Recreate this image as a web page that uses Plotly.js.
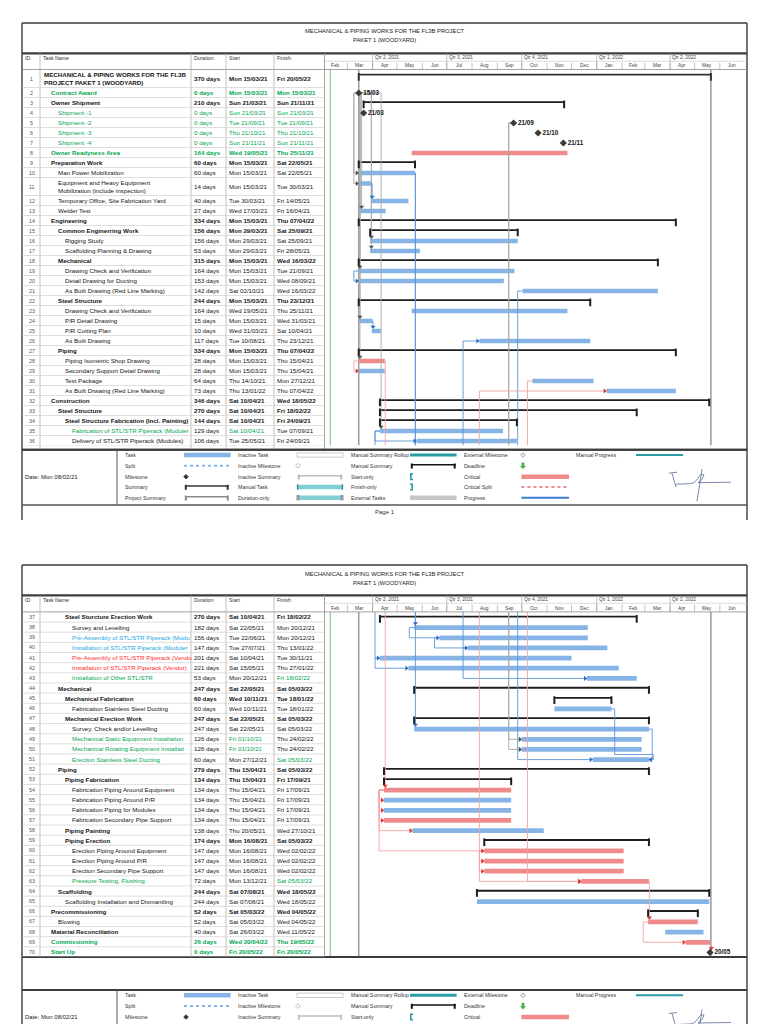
<!DOCTYPE html>
<html>
<head>
<meta charset="utf-8">
<script src="https://cdn.plot.ly/plotly-3.0.1.min.js"></script>
<style>
html,body{margin:0;padding:0;background:#fff;overflow:hidden}
#chart{width:768px;height:1024px}
</style>
</head>
<body>
<div id="chart"></div>
<script>
// ================= DATA =================
const projectTitle = ['MECHANICAL &amp; PIPING WORKS FOR THE FL3B PROJECT', 'PAKET 1 (WOODYARD)'];
const statusDate = 'Mon 08/02/21';
const timescaleStart = 'Mon 01/02/21';
const timescaleEnd = 'Fri 01/07/22';
const monthLabels = ['Feb','Mar','Apr','May','Jun','Jul','Aug','Sep','Oct','Nov','Dec','Jan','Feb','Mar','Apr','May','Jun'];
const quarterLabels = ['Qtr 2, 2021','Qtr 3, 2021','Qtr 4, 2021','Qtr 1, 2022','Qtr 2, 2022'];
const quarterStarts = ['Thu 01/04/21','Thu 01/07/21','Fri 01/10/21','Sat 01/01/22','Fri 01/04/22'];
const columnHeaders = ['ID','Task Name','Duration','Start','Finish'];
const firstIdOnPage2 = 37;

const taskIds = [1,2,3,4,5,6,7,8,9,10,11,12,13,14,15,16,17,18,19,20,21,22,23,24,25,26,27,28,29,30,31,32,33,34,35,36,
  37,38,39,40,41,42,43,44,45,46,47,48,49,50,51,52,53,54,55,56,57,58,59,60,61,62,63,64,65,66,67,68,69,70];

const taskNames = [
  'MECHANICAL &amp; PIPING WORKS FOR THE FL3B<br>PROJECT PAKET 1 (WOODYARD)',
  'Contract Award','Owner Shipment','Shipment -1','Shipment -2','Shipment -3','Shipment -4',
  'Owner Readyness Area','Preparation Work','Man Power Mobilization',
  'Equipment and Heavy Equipment<br>Mobilization (include inspection)',
  'Temporary Office, Site Fabrication Yard','Welder Test','Engineering','Common Enginerring Work',
  'Rigging Study','Scaffolding Planning &amp; Drawing','Mechanical','Drawing Check and Verification',
  'Detail Drawing for Ducting','As Built Drawing (Red Line Marking)','Steel Structure',
  'Drawing Check and Verification','P/R Detail Drawing','P/R Cutting Plan','As Built Drawing','Piping',
  'Piping Isometric Shop Drawing','Secondary Support Detail Drawing','Test Package',
  'As Built Drwaing (Red Line Marking)','Construction','Steel Structure',
  'Steel Structure Fabrication (Incl. Painting)','Fabrication of STL/STR Piperack (Moduler',
  'Delivery of STL/STR Piperack (Modules)',
  'Steel Sturcture Erection Work','Survey and Levelling','Pre-Assembly of STL/STR Piperack (Modu',
  'Installation of STL/STR Piperack (Moduler','Pre-Assembly of STL/STR Piperack (Vendo',
  'Installation of STL/STR Piperack (Vendor)','Installation of Other STL/STR','Mechanical',
  'Mechanical Fabrication','Fabrication Stainless Steel Ducting','Mechanical Erection Work',
  'Survey, Check and/or Levelling','Mechanical Static Equipment Installation',
  'Mechanical Rotating Equipment Installati','Erection Stainless Steel Ducting','Piping',
  'Piping Fabrication','Fabrication Piping Around Equipment','Fabrication Piping Around P/R',
  'Fabrication Piping for Modules','Fabrication Secondary Pipe Support','Piping Painting',
  'Piping Erection','Erection Piping Around Equipment','Erection Piping Around P/R',
  'Erection Secondary Pipe Support','Pressure Testing, Flushing','Scaffolding',
  'Scaffolding Installation and Dismantling','Precommissioning','Blowing','Material Reconciliation',
  'Commissioning','Start Up'
];

const taskLevels = [0,1,1,2,2,2,2,1,1,2,2,2,2,1,2,3,3,2,3,3,3,2,3,3,3,3,2,3,3,3,3,1,2,3,4,4,
  3,4,4,4,4,4,4,2,3,4,3,4,4,4,4,2,3,4,4,4,4,3,3,4,4,4,4,2,3,1,2,1,1,1];

const taskLines = [2,1,1,1,1,1,1,1,1,1,2,1,1,1,1,1,1,1,1,1,1,1,1,1,1,1,1,1,1,1,1,1,1,1,1,1,
  1,1,1,1,1,1,1,1,1,1,1,1,1,1,1,1,1,1,1,1,1,1,1,1,1,1,1,1,1,1,1,1,1,1];

const taskDurations = [370,0,210,0,0,0,0,164,60,60,14,40,27,334,156,156,53,315,164,153,142,244,164,15,10,117,
  334,28,28,64,73,346,270,144,129,106,
  270,182,156,147,201,221,53,247,60,60,247,247,126,126,60,279,134,134,134,134,134,138,174,147,147,147,72,
  244,244,52,52,40,26,0];

const taskStarts = ['Mon 15/03/21','Mon 15/03/21','Sun 21/03/21','Sun 21/03/21','Tue 21/09/21','Thu 21/10/21',
  'Sun 21/11/21','Wed 19/05/21','Mon 15/03/21','Mon 15/03/21','Mon 15/03/21','Tue 30/03/21','Wed 17/03/21',
  'Mon 15/03/21','Mon 29/03/21','Mon 29/03/21','Mon 29/03/21','Mon 15/03/21','Mon 15/03/21','Mon 15/03/21',
  'Sat 02/10/21','Mon 15/03/21','Wed 19/05/21','Mon 15/03/21','Wed 31/03/21','Tue 10/08/21','Mon 15/03/21',
  'Mon 15/03/21','Mon 15/03/21','Thu 14/10/21','Thu 13/01/22','Sat 10/04/21','Sat 10/04/21','Sat 10/04/21',
  'Sat 10/04/21','Tue 25/05/21',
  'Sat 10/04/21','Sat 22/05/21','Tue 22/06/21','Tue 27/07/21','Sat 10/04/21','Sat 15/05/21','Mon 20/12/21',
  'Sat 22/05/21','Wed 10/11/21','Wed 10/11/21','Sat 22/05/21','Sat 22/05/21','Fri 01/10/21','Fri 01/10/21',
  'Mon 27/12/21','Thu 15/04/21','Thu 15/04/21','Thu 15/04/21','Thu 15/04/21','Thu 15/04/21','Thu 15/04/21',
  'Thu 20/05/21','Mon 16/08/21','Mon 16/08/21','Mon 16/08/21','Mon 16/08/21','Mon 13/12/21','Sat 07/08/21',
  'Sat 07/08/21','Sat 05/03/22','Sat 05/03/22','Sat 26/03/22','Wed 20/04/22','Fri 20/05/22'];

const taskFinishes = ['Fri 20/05/22','Mon 15/03/21','Sun 21/11/21','Sun 21/03/21','Tue 21/09/21','Thu 21/10/21',
  'Sun 21/11/21','Thu 25/11/21','Sat 22/05/21','Sat 22/05/21','Tue 30/03/21','Fri 14/05/21','Fri 16/04/21',
  'Thu 07/04/22','Sat 25/09/21','Sat 25/09/21','Fri 28/05/21','Wed 16/03/22','Tue 21/09/21','Wed 08/09/21',
  'Wed 16/03/22','Thu 23/12/21','Thu 25/11/21','Wed 31/03/21','Sat 10/04/21','Thu 23/12/21','Thu 07/04/22',
  'Thu 15/04/21','Thu 15/04/21','Mon 27/12/21','Thu 07/04/22','Wed 18/05/22','Fri 18/02/22','Fri 24/09/21',
  'Tue 07/09/21','Fri 24/09/21',
  'Fri 18/02/22','Mon 20/12/21','Mon 20/12/21','Thu 13/01/22','Tue 30/11/21','Thu 27/01/22','Fri 18/02/22',
  'Sat 05/03/22','Tue 18/01/22','Tue 18/01/22','Sat 05/03/22','Sat 05/03/22','Thu 24/02/22','Thu 24/02/22',
  'Sat 05/03/22','Sat 05/03/22','Fri 17/09/21','Fri 17/09/21','Fri 17/09/21','Fri 17/09/21','Fri 17/09/21',
  'Wed 27/10/21','Sat 05/03/22','Wed 02/02/22','Wed 02/02/22','Wed 02/02/22','Sat 05/03/22','Wed 18/05/22',
  'Wed 18/05/22','Wed 04/05/22','Wed 04/05/22','Wed 11/05/22','Thu 19/05/22','Fri 20/05/22'];

// P project summary, S summary, T task, C critical task, M milestone
const taskKinds = ['P','M','S','M','M','M','M','C','S','T','T','T','T','S','S','T','T','S','T','T','T','S','T','T','T','T',
  'S','C','T','T','T','S','S','S','T','T',
  'S','T','T','T','T','T','T','S','S','T','S','T','T','T','T','S','S','C','T','T','C','T','S','C','C','C','C',
  'S','T','S','C','T','C','M'];

// text colour per column (name, duration, start, finish): k black, g green, b blue, r red
const taskTextColor = ['kkkk','gggg','kkkk','gggg','gggg','gggg','gggg','gggg','kkkk','kkkk','kkkk','kkkk','kkkk',
  'kkkk','kkkk','kkkk','kkkk','kkkk','kkkk','kkkk','kkkk','kkkk','kkkk','kkkk','kkkk','kkkk','kkkk','kkkk','kkkk',
  'kkkk','kkkk','kkkk','kkkk','kkkk','gkgk','kkkk',
  'kkkk','kkkk','bkkk','bkkk','rkkk','rkkk','gkkg','kkkk','kkkk','kkkk','kkkk','kkkk','gkgk','gkgk','gkkg',
  'kkkk','kkkk','kkkk','kkkk','kkkk','kkkk','kkkk','kkkk','kkkk','kkkk','kkkk','gkkg','kkkk','kkkk','kkkk',
  'kkkk','kkkk','gggg','gggg'];

// bold per column (name, duration, start, finish)
const taskBold = ['1111','1111','1111','0000','0000','0000','0000','1111','1111','0000','0000','0000','0000',
  '1111','1111','0000','0000','1111','0000','0000','0000','1111','0000','0000','0000','0000','1111','0000','0000',
  '0000','0000','1111','1111','1111','0000','0000',
  '1111','0000','0000','0000','0000','0000','0000','1111','1111','0000','1111','0000','0000','0000','0000',
  '1111','1111','0000','0000','0000','0000','1000','1111','0000','0000','0000','0000','1111','0000','1111',
  '0000','1000','1111','1111'];

// predecessor, successor, link type
const taskLinks = [
  [2,10,'SS'],[2,11,'SS'],[11,12,'FS'],[2,13,'FS'],[2,16,'FS'],[2,17,'FS'],[2,19,'FS'],[19,20,'SS'],
  [2,24,'FS'],[24,25,'FS'],[2,28,'FS'],[28,29,'SS'],[2,35,'FS'],[35,36,'SS'],[40,26,'SS'],[60,31,'SS'],
  [30,63,'SS'],[21,51,'SS'],[5,49,'SS'],[5,50,'SS'],[10,38,'FS'],[10,48,'FS'],[38,39,'SS'],[39,40,'SS'],
  [35,41,'SS'],[41,42,'SS'],[40,43,'SS'],[46,51,'FF'],[48,51,'FF'],[28,54,'FS'],[54,55,'SS'],[54,56,'SS'],
  [54,57,'SS'],[54,58,'SS'],[54,60,'SS'],[60,61,'SS'],[60,62,'SS'],[60,63,'SS'],[63,67,'FS'],[67,69,'SS'],
  [69,70,'FS']
];

const legendLabels = [
  ['Task','Split','Milestone','Summary','Project Summary'],
  ['Inactive Task','Inactive Milestone','Inactive Summary','Manual Task','Duration-only'],
  ['Manual Summary Rollup','Manual Summary','Start-only','Finish-only','External Tasks'],
  ['External Milestone','Deadline','Critical','Critical Split','Progress'],
  ['Manual Progress']
];

// ================= STYLE / LAYOUT CONSTANTS =================
const W = 768, H = 1024, DAY = 864e5;
const X = px => px / W;
const Y = py => 1 - py / H;
const FONT = '"Liberation Sans", Arial, Helvetica, sans-serif';
const COL = {blue:'#86b4e6', red:'#f08b8b', sum:'#1e1e1e', proj:'#333333', ms:'#3a3a3a',
  tblack:'#141414', tgreen:'#00a650', tblue:'#18a6e6', tred:'#ff2a2a',
  linkBlue:'#5b95d6', linkRed:'#f3a5a5', linkGrey:'#a8a8a8', arrowBlue:'#2f6fc0', arrowRed:'#e0393a', arrowGrey:'#555'};
const TXT = {k:COL.tblack, g:COL.tgreen, b:COL.tblue, r:COL.tred};
const FL = 22, FR = 747;               // frame left/right
const GANTT_L = 324.5, GANTT_R = 744.3; // gantt area
const COLX = [40, 191, 226, 274];        // table column separators
const PAGES = [
  {n:1, xa:'x', ya:'y', frameTop:23, title:[31,40], hdrTop:53.3, bodyTop:69.5, unit:10.0, tblBottom:449.7, legTop:449.7, frameBottom:520, pageLabel:'Page 1'},
  {n:2, xa:'x2', ya:'y2', frameTop:565, title:[573.5,582.5], hdrTop:595.3, bodyTop:611.9, unit:10.15, tblBottom:957, legTop:990, frameBottom:1060, pageLabel:null}
];

// ================= HELPERS =================
function toMs(s){const m=/(\d+)\/(\d+)\/(\d+)/.exec(s);return Date.UTC(2000+Number(m[3]),Number(m[2])-1,Number(m[1]));}
function iso(ms){return new Date(ms).toISOString().slice(0,19).replace('T',' ');}
function ddmm(s){const m=/(\d+)\/(\d+)\//.exec(s);return m[1]+'/'+m[2];}
const shapes = [], ann = [];
function line(x0,y0,x1,y1,color,width,dash,layer){shapes.push({type:'line',xref:'paper',yref:'paper',x0:X(x0),y0:Y(y0),x1:X(x1),y1:Y(y1),line:{color:color,width:width,dash:dash||'solid'},layer:layer||'above'});}
function rect(x0,y0,x1,y1,fill,lc,lw){shapes.push({type:'rect',xref:'paper',yref:'paper',x0:X(x0),y0:Y(y0),x1:X(x1),y1:Y(y1),fillcolor:fill,line:{color:lc||'rgba(0,0,0,0)',width:lw||0}});}
function pathPx(str){const t=str.trim().split(/[\s,]+/);const out=[];let isX=true;for(const k of t){if(/^[A-Za-z]$/.test(k)){out.push(k);isX=true;}else{out.push(isX?X(+k).toFixed(5):Y(+k).toFixed(5));isX=!isX;}}return out.join(' ');}
function path(str,lc,lw,fill){shapes.push({type:'path',xref:'paper',yref:'paper',path:pathPx(str),line:{color:lc||'rgba(0,0,0,0)',width:lw||0},fillcolor:fill||'rgba(0,0,0,0)'});}
function text(x,y,t,o){o=o||{};ann.push({xref:'paper',yref:'paper',x:X(x),y:Y(y),text:t,showarrow:false,xanchor:o.anchor||'left',yanchor:'middle',align:'left',borderpad:0,font:{family:FONT,size:o.size||6,color:o.color||'#222'}});}
function boldify(t){return t.split('<br>').map(s=>'<b>'+s+'</b>').join('<br>');}

// ================= ROW GEOMETRY =================
const pageTot = {1:0, 2:0};
const rows = taskIds.map((id,i)=>{
  const pg = id < firstIdOnPage2 ? 1 : 2;
  const h = taskLines[i] === 2 ? 1.8 : 1;
  const top = pageTot[pg]; pageTot[pg] += h;
  const s = toMs(taskStarts[i]), f = toMs(taskFinishes[i]);
  const kind = taskKinds[i];
  return {i, id, pg, top, h, center: top + h/2, barY: taskLines[i] === 2 ? top + 0.6 : top + 0.55,
          start: s, end: kind === 'M' ? s : f + DAY, kind};
});
const byId = {}; rows.forEach(r => byId[r.id] = r);
const tsStart = toMs(timescaleStart), tsEnd = toMs(timescaleEnd);

// ================= TRACES =================
const traces = [];
const linkStore = {1:{}, 2:{}}, arrowStore = {1:{}, 2:{}};
const G1 = pageTot[1];
const gy = r => r.pg === 1 ? r.barY : G1 + r.barY;
const local = g => g <= G1 ? [1, g] : [2, g - G1];
function pushSeg(color, pg, x0, y0, x1, y1){
  const st = linkStore[pg]; if(!st[color]) st[color] = {x:[], y:[]};
  st[color].x.push(iso(x0), iso(x1), null); st[color].y.push(y0, y1, null);
}
function addSeg(color, a, b){
  const [pa, ya] = local(a[1]), [pb, yb] = local(b[1]);
  if (pa === pb) { pushSeg(color, pa, a[0], ya, b[0], yb); return; }
  if (pa === 1) { pushSeg(color, 1, a[0], ya, a[0], G1); pushSeg(color, 2, b[0], 0, b[0], yb); }
  else { pushSeg(color, 2, a[0], ya, a[0], 0); pushSeg(color, 1, b[0], G1, b[0], yb); }
}
taskLinks.forEach(([pa, sa, type]) => {
  const p = byId[pa], s = byId[sa];
  const kind = p.kind === 'M' ? 'Grey' : (p.kind === 'C' || s.kind === 'C') ? 'Red' : 'Blue';
  const yp = gy(p), ys = gy(s);
  let pts, arrow;
  if (type === 'SS') {
    const xv = p.start - 6*DAY, xa = s.start - 2.3*DAY;
    pts = [[p.start, yp], [xv, yp], [xv, ys], [xa, ys]]; arrow = [xa, ys, 'triangle-right'];
  } else if (type === 'FF') {
    const xv = Math.max(p.end, s.end) + 5*DAY, xa = s.end + 2.3*DAY, xo = p.end + 4*DAY;
    pts = [[p.end, yp], [xo, yp], [xo, ys - 0.5], [xv, ys - 0.5], [xv, ys], [xa, ys]]; arrow = [xa, ys, 'triangle-left'];
  } else {
    const xv = Math.max(p.end, s.start + 1.5*DAY), dir = ys > yp ? 1 : -1, ya = ys - dir*0.42;
    pts = [[p.end, yp], [xv, yp], [xv, ya]]; arrow = [xv, ya, dir > 0 ? 'triangle-down' : 'triangle-up'];
  }
  for (let k = 0; k < pts.length - 1; k++) addSeg(kind, pts[k], pts[k+1]);
  const [ap, ay] = local(arrow[1]);
  const st = arrowStore[ap]; if(!st[kind]) st[kind] = {x:[], y:[], sym:[]};
  st[kind].x.push(iso(arrow[0])); st[kind].y.push(ay); st[kind].sym.push(arrow[2]);
});

PAGES.forEach(pg => {
  const prow = rows.filter(r => r.pg === pg.n);
  const ax = {xaxis: pg.xa, yaxis: pg.ya, hoverinfo: 'skip', showlegend: false};
  Object.keys(linkStore[pg.n]).forEach(k => {
    traces.push(Object.assign({type:'scatter', mode:'lines', x: linkStore[pg.n][k].x, y: linkStore[pg.n][k].y,
      line:{color: COL['link'+k], width: 0.9}, connectgaps:false}, ax));
  });
  const bars = (kinds, color, w, dy) => {
    const sel = prow.filter(r => kinds.includes(r.kind)); if (!sel.length) return;
    traces.push(Object.assign({type:'bar', orientation:'h', base: sel.map(r => iso(r.start)),
      x: sel.map(r => r.end - r.start), y: sel.map(r => r.barY + dy), width: w,
      marker:{color: color, line:{width:0}}}, ax));
  };
  bars(['T'], COL.blue, 0.47, 0);
  bars(['C'], COL.red, 0.47, 0);
  bars(['S'], COL.sum, 0.18, -0.08);
  bars(['P'], COL.proj, 0.18, -0.08);
  const sums = prow.filter(r => r.kind === 'S' || r.kind === 'P');
  if (sums.length) {
    const cols = sums.flatMap(r => { const c = r.kind === 'P' ? COL.proj : COL.sum; return [c, c]; });
    traces.push(Object.assign({type:'scatter', mode:'markers', x: sums.flatMap(r => [iso(r.start), iso(r.end)]),
      y: sums.flatMap(r => [r.barY + 0.14, r.barY + 0.14]),
      marker:{symbol:'line-ns', size:5.5, color: cols, line:{width:2, color: cols}}, cliponaxis:false}, ax));
  }
  Object.keys(arrowStore[pg.n]).forEach(k => {
    const a = arrowStore[pg.n][k];
    traces.push(Object.assign({type:'scatter', mode:'markers', x: a.x, y: a.y,
      marker:{symbol: a.sym, size: 4.5, color: COL['arrow'+k], line:{width:0}}, cliponaxis:false}, ax));
  });
  const ms = prow.filter(r => r.kind === 'M');
  if (ms.length) {
    traces.push(Object.assign({type:'scatter', mode:'markers+text', x: ms.map(r => iso(r.start)), y: ms.map(r => r.barY),
      text: ms.map(r => '<b>' + ddmm(taskStarts[r.i]) + '</b>'), textposition:'middle right',
      textfont:{family: FONT, size: 6.3, color:'#111'},
      marker:{symbol:'diamond', size: 5.5, color: COL.ms, line:{width:0}}, cliponaxis:false}, ax));
  }
});

// ================= PAGE FURNITURE =================
function legend(top){
  const bot = top + 55.3;
  const vis = y => y < H - 4;
  line(FL, top, FR, top, '#3c3c3c', 2);
  if (vis(bot)) line(FL, bot, FR, bot, '#555', 1.4);
  line(117, top, 117, Math.min(bot, H), '#555', 1);
  const ry = [5.3, 16, 27, 37.3, 48].map(d => top + d);
  if (vis(ry[2])) text(24, ry[2], 'Date: ' + statusDate, {size: 6, color:'#222'});
  const lx = [123.9, 236.6, 349.9, 462.5, 575.2];
  legendLabels.forEach((col, c) => col.forEach((t, k) => { if (vis(ry[k])) text(lx[c], ry[k], t, {size: 5.3, color:'#333'}); }));
  const bracket = (x0, x1, y, c) => { line(x0, y - 1, x1, y - 1, c, 1.5); line(x0 + 0.8, y - 2.2, x0 + 0.8, y + 2.8, c, 2); line(x1 - 0.8, y - 2.2, x1 - 0.8, y + 2.8, c, 2); };
  const diamond = (x, y, r, lc, fill) => path(`M ${x} ${y-r} L ${x+r} ${y} L ${x} ${y+r} L ${x-r} ${y} Z`, lc, 0.8, fill);
  // column 1
  rect(184, ry[0]-2.3, 230.6, ry[0]+2.3, COL.blue);
  line(184, ry[1], 230.6, ry[1], COL.blue, 2, 'dot');
  diamond(186, ry[2], 2.3, '#333', '#333');
  if (vis(ry[3])) bracket(185, 228.5, ry[3], '#333');
  if (vis(ry[4])) bracket(185, 228.5, ry[4], '#8a8a8a');
  // column 2
  rect(297, ry[0]-2.2, 343, ry[0]+2.2, '#fff', '#bdbdbd', 0.8);
  diamond(298, ry[1], 2.4, '#aaa', '#fff');
  bracket(298, 342, ry[2], '#bdbdbd');
  if (vis(ry[3])) { rect(297, ry[3]-2.3, 343, ry[3]+2.3, '#7fcfd5'); line(297.6, ry[3]-2.6, 297.6, ry[3]+2.6, '#2a8f98', 1.5); line(342.4, ry[3]-2.6, 342.4, ry[3]+2.6, '#2a8f98', 1.5); }
  if (vis(ry[4])) { rect(297, ry[4]-2.3, 343, ry[4]+2.3, '#7fcfd5'); rect(296.5, ry[4]-2.7, 299.5, ry[4]+2.7, '#9a9a9a'); rect(340.5, ry[4]-2.7, 343.5, ry[4]+2.7, '#9a9a9a'); }
  // column 3
  rect(410, ry[0]-1.5, 456.6, ry[0]+1.5, '#2a9da5');
  bracket(411, 455.5, ry[1], '#111');
  path(`M 413 ${ry[2]-2.8} L 410.8 ${ry[2]-2.8} L 410.8 ${ry[2]+2.8} L 413 ${ry[2]+2.8}`, '#2a9da5', 1.6);
  if (vis(ry[3])) path(`M 410 ${ry[3]-2.8} L 412.2 ${ry[3]-2.8} L 412.2 ${ry[3]+2.8} L 410 ${ry[3]+2.8}`, '#2a9da5', 1.6);
  if (vis(ry[4])) rect(410, ry[4]-2.3, 456.6, ry[4]+2.3, '#c6c6c6');
  // column 4
  diamond(523, ry[0], 2.4, '#9a9a9a', '#e8e8e8');
  path(`M 521.6 ${ry[1]-3.2} L 524.4 ${ry[1]-3.2} L 524.4 ${ry[1]+0.2} L 526 ${ry[1]+0.2} L 523 ${ry[1]+3.4} L 520 ${ry[1]+0.2} L 521.6 ${ry[1]+0.2} Z`, 'rgba(0,0,0,0)', 0, '#4caf50');
  rect(521.4, ry[2]-2.3, 569, ry[2]+2.3, COL.red);
  if (vis(ry[3])) line(521.4, ry[3], 569, ry[3], '#f08b8b', 2, 'dot');
  if (vis(ry[4])) line(521.4, ry[4], 569, ry[4], '#3a7bd5', 2);
  // column 5
  line(636, ry[0], 683, ry[0], '#2a9da5', 2);
  // signature
  const sy = top + 23.5;
  const sg = (d) => d.replace(/(-?\d+(\.\d+)?) (-?\d+(\.\d+)?)/g, (m, a, b1, c) => `${(+a).toFixed(2)} ${(+c + sy).toFixed(2)}`);
  path(sg('M 669 0 L 677 -1'), '#5b6a96', 0.8);
  path(sg('M 672 0 Q 674 7 676 14'), '#5b6a96', 0.8);
  path(sg('M 676 11 L 690 10.5 Q 695 10 698 5 Q 701 0 704 1.5 Q 703 7 698 9.5 L 731 9'), '#5b6a96', 0.8);
  path(sg('M 702 -4 Q 700 10 697 28'), '#5b6a96', 0.8);
}

function timescale(pg){
  const top = pg.hdrTop, bot = pg.bodyTop, mid = top + 8;
  const xa = pg.xa;
  line(GANTT_L, mid, FR, mid, '#c4c4c4', 0.6);
  const sd = new Date(tsStart);
  monthLabels.forEach((lab, k) => {
    const m0 = Date.UTC(sd.getUTCFullYear(), sd.getUTCMonth() + k, 1);
    const m1 = Date.UTC(sd.getUTCFullYear(), sd.getUTCMonth() + k + 1, 1);
    shapes.push({type:'line', xref: xa, yref:'paper', x0: iso(m0), x1: iso(m0), y0: Y(k === 0 ? top : mid + 1.5), y1: Y(bot), line:{color:'#9a9a9a', width:0.6}});
    ann.push({xref: xa, yref:'paper', x: iso((m0 + m1) / 2), y: Y(bot - 3.6), text: lab, showarrow:false, xanchor:'center', yanchor:'middle', borderpad:0, font:{family: FONT, size: 4.8, color:'#444'}});
  });
  quarterStarts.forEach((q, k) => {
    const qm = toMs(q);
    shapes.push({type:'line', xref: xa, yref:'paper', x0: iso(qm), x1: iso(qm), y0: Y(top), y1: Y(bot), line:{color:'#9a9a9a', width:0.6}});
    ann.push({xref: xa, yref:'paper', x: iso(qm + 1.5*DAY), y: Y(top + 4.2), text: quarterLabels[k], showarrow:false, xanchor:'left', yanchor:'middle', borderpad:0, font:{family: FONT, size: 4.8, color:'#444'}});
  });
}

PAGES.forEach(pg => {
  const fb = Math.min(pg.frameBottom, H);
  line(FL, pg.frameTop, FR, pg.frameTop, '#3c3c3c', 1.4);
  line(FL, pg.frameTop, FL, fb, '#3c3c3c', 1.4);
  line(FR, pg.frameTop, FR, fb, '#3c3c3c', 1.4);
  line(FL, pg.hdrTop, FR, pg.hdrTop, '#3c3c3c', 2.2);
  line(FL, pg.bodyTop, FR, pg.bodyTop, '#8c8c8c', 0.8);
  line(FL, pg.tblBottom, FR, pg.tblBottom, '#3c3c3c', 2);
  text(384.5, pg.title[0], projectTitle[0], {anchor:'center', size: 5.8, color:'#222'});
  text(384.5, pg.title[1], projectTitle[1], {anchor:'center', size: 5.8, color:'#222'});
  COLX.forEach(cx => line(cx, pg.hdrTop, cx, pg.tblBottom, '#a8a8a8', 0.7));
  line(GANTT_L, pg.hdrTop, GANTT_L, pg.tblBottom, '#8c8c8c', 0.8);
  const hx = [23.5, 42, 192.5, 227.8, 276.2];
  columnHeaders.forEach((h, k) => text(hx[k], pg.hdrTop + 4.6, h, {size: 5.2, color:'#333'}));
  timescale(pg);
  legend(pg.legTop);
  if (pg.pageLabel) text(384.5, 511.6, pg.pageLabel, {anchor:'center', size: 6, color:'#333'});
  const tot = pageTot[pg.n], proj = byId[1];
  const vline = (ms, color, width) => shapes.push({type:'line', xref: pg.xa, yref: pg.ya, x0: iso(ms), x1: iso(ms), y0: 0, y1: tot, line:{color, width}, layer:'below'});
  vline(toMs(statusDate), '#73c173', 1);
  vline(proj.start, '#a0a0a0', 1.6);
  vline(proj.end, '#a0a0a0', 1.6);
});

// table cells
rows.forEach(r => {
  const pg = PAGES[r.pg - 1];
  const cm = taskTextColor[r.i], bm = taskBold[r.i];
  const cells = [taskNames[r.i], taskDurations[r.i] + ' days', taskStarts[r.i], taskFinishes[r.i]];
  const cx = [43 + 7.1 * taskLevels[r.i], 192.5, 227.8, 276.2];
  const cell = (px, t, o) => ann.push({xref:'paper', yref: pg.ya, x: X(px), y: r.center, text: t, showarrow:false,
    xanchor: o.anchor || 'left', yanchor:'middle', align:'left', borderpad:0, font:{family: FONT, size: o.size || 6.2, color: o.color}});
  cell(31.5, String(r.id), {anchor:'center', size: 5.3, color:'#555'});
  cells.forEach((t, k) => cell(cx[k], bm[k] === '1' ? boldify(t) : t, {color: TXT[cm[k]]}));
  shapes.push({type:'line', xref:'paper', yref: pg.ya, x0: X(FL), x1: X(GANTT_L), y0: r.top + r.h, y1: r.top + r.h, line:{color:'#d0d0d0', width:0.7}});
});

// ================= LAYOUT =================
const xAxis = (anchor) => ({type:'date', domain:[X(GANTT_L), X(GANTT_R)], range:[iso(tsStart), iso(tsEnd)], visible:false, fixedrange:true, anchor});
const yAxis = (pg, anchor) => ({domain:[Y(pg.bodyTop + pageTot[pg.n] * pg.unit), Y(pg.bodyTop)], range:[pageTot[pg.n], 0], visible:false, fixedrange:true, anchor});
const layout = {
  width: W, height: H, margin:{l:0, r:0, t:0, b:0}, autosize:false,
  paper_bgcolor:'#ffffff', plot_bgcolor:'rgba(0,0,0,0)', barmode:'overlay', showlegend:false,
  font:{family: FONT},
  xaxis: xAxis('y'), yaxis: yAxis(PAGES[0], 'x'),
  xaxis2: xAxis('y2'), yaxis2: yAxis(PAGES[1], 'x2'),
  shapes, annotations: ann
};
Plotly.newPlot('chart', traces, layout, {staticPlot:true, displayModeBar:false});
</script>
</body>
</html>
